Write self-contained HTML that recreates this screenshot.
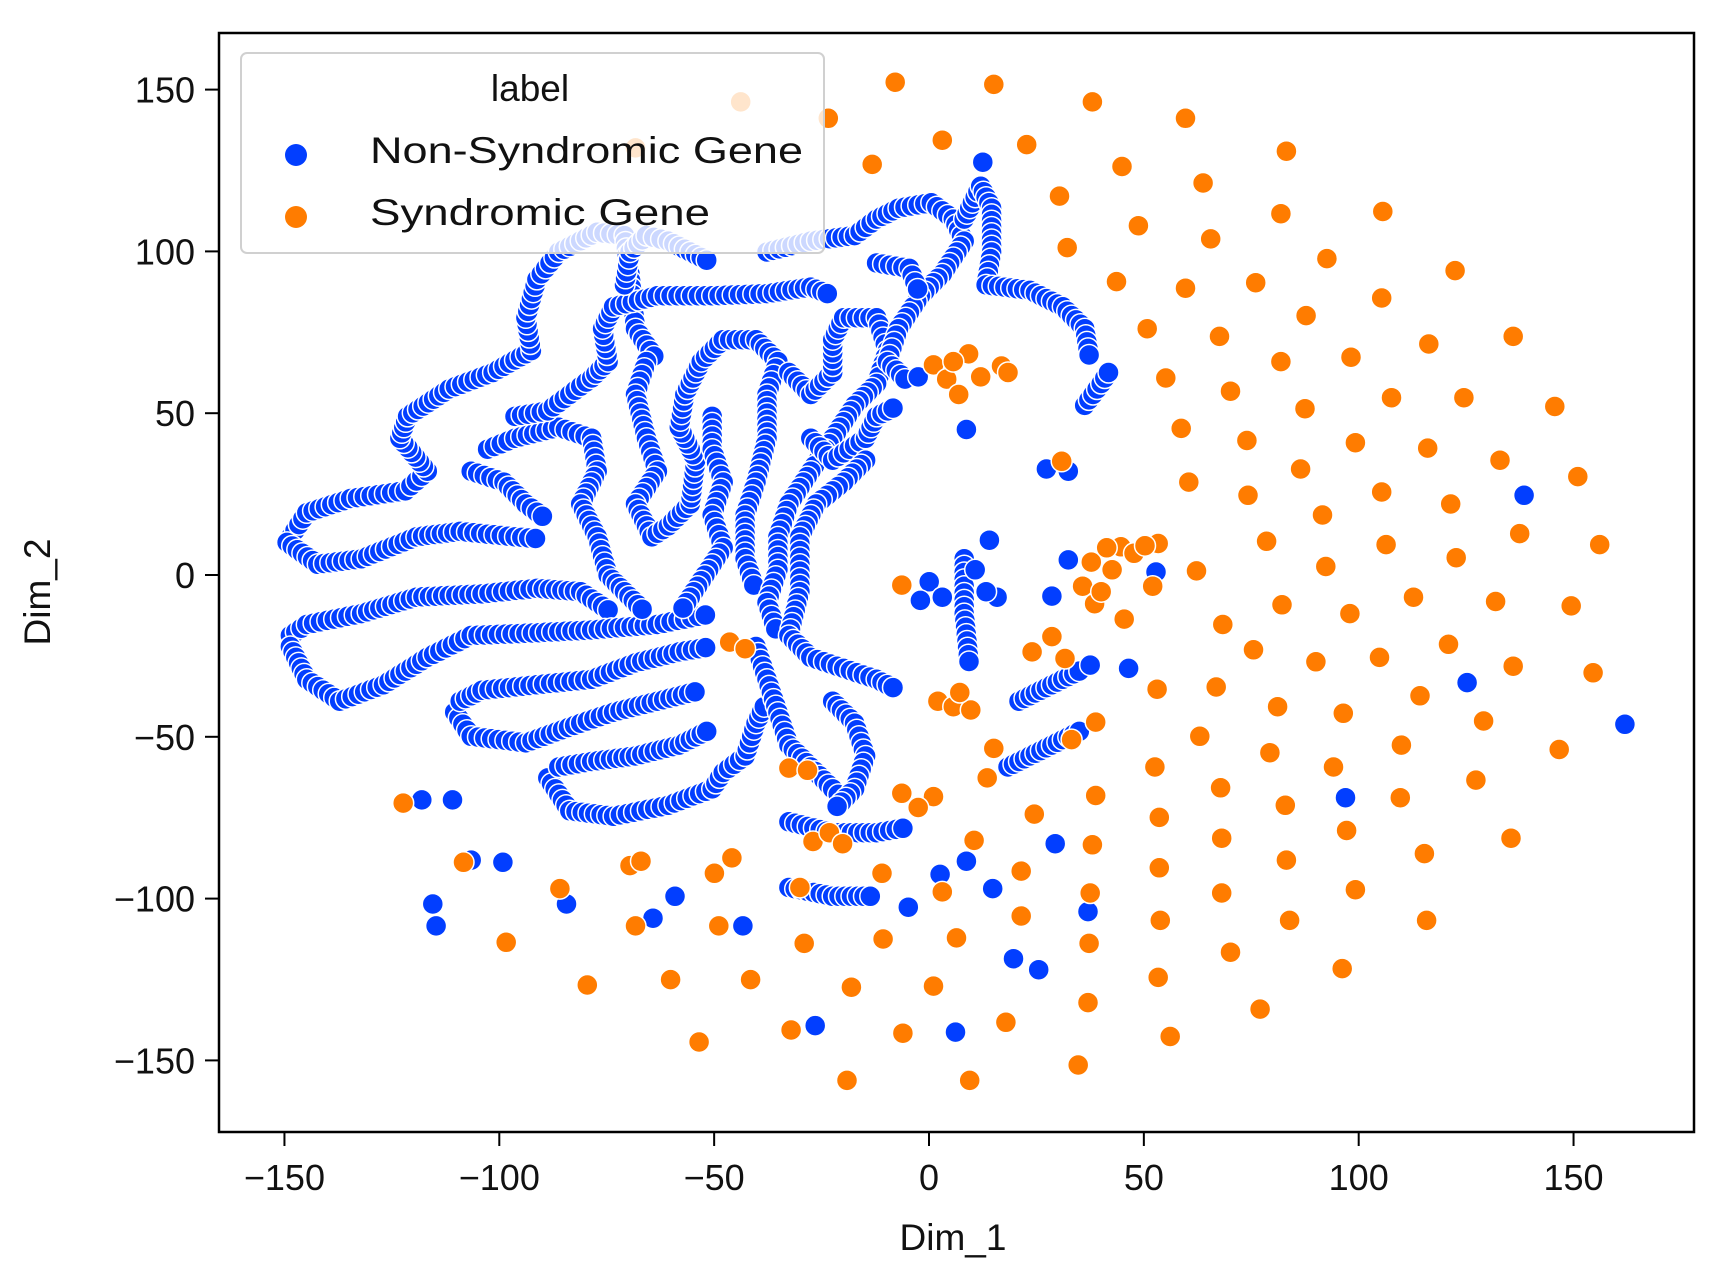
<!DOCTYPE html>
<html><head><meta charset="utf-8"><style>
html,body{margin:0;padding:0;background:#fff;}
svg{display:block;font-family:"Liberation Sans",sans-serif;}
</style></head><body>
<svg id="s" width="1715" height="1279" viewBox="0 0 1715 1279" xmlns="http://www.w3.org/2000/svg">
<rect width="1715" height="1279" fill="#fff"/>
<g id="pts"></g>
<g id="leg">
<rect x="241" y="53" width="583" height="200" rx="6" fill="rgba(255,255,255,0.8)" stroke="#d0d0d0" stroke-width="2"/>
<text x="530" y="101" font-size="37" text-anchor="middle" fill="#111">label</text>
<circle cx="296" cy="155" r="11" fill="#023eff"/>
<text x="370" y="163" font-size="37" fill="#111" textLength="433" lengthAdjust="spacingAndGlyphs">Non-Syndromic Gene</text>
<circle cx="296" cy="217" r="11" fill="#ff7c00"/>
<text x="370" y="225" font-size="37" fill="#111" textLength="340" lengthAdjust="spacingAndGlyphs">Syndromic Gene</text>
</g>
<rect x="219" y="33" width="1475" height="1099" fill="none" stroke="#000" stroke-width="2.5"/>
<g id="ax" font-size="36" fill="#111"></g>
<text x="953" y="1250" font-size="37" text-anchor="middle" fill="#111">Dim_1</text>
<text transform="translate(50,592) rotate(-90)" font-size="37" text-anchor="middle" fill="#111">Dim_2</text>
</svg>
<script>
var NS="http://www.w3.org/2000/svg",S=1.0957;
var g=document.getElementById('pts'),ax=document.getElementById('ax');
function c(x,y,col,r){var e=document.createElementNS(NS,'circle');e.setAttribute('cx',(x*S).toFixed(1));e.setAttribute('cy',(y*S).toFixed(1));e.setAttribute('r',r||10.5);e.setAttribute('fill',col);e.setAttribute('stroke','#fff');e.setAttribute('stroke-width','1.5');g.appendChild(e);}
var B='#023eff',O='#ff7c00';
var paths=[
[[262,495],[280,468],[320,455],[370,448],[390,430],[365,400],[372,380],[410,355],[450,340],[485,320],[480,290],[490,255],[510,230],[545,212],[570,215],[575,250],[580,300],[600,330]],
[[262,495],[290,515],[330,510],[380,490],[420,485],[470,490],[495,492]],
[[265,580],[280,570],[330,560],[380,545],[440,542],[490,537],[530,540],[560,560]],
[[265,590],[280,620],[310,640],[350,625],[390,600],[430,580],[480,578],[540,575],[600,570],[650,560]],
[[415,650],[430,672],[480,678],[530,660],[560,650],[600,640],[640,630]],
[[420,640],[440,630],[490,625],[540,620],[580,605],[620,595],[650,590]],
[[500,710],[520,740],[560,745],[610,735],[650,720],[660,705],[680,690],[690,660],[700,640]],
[[510,700],[540,695],[580,690],[620,680],[650,665]],
[[445,410],[470,400],[510,390],[540,400],[545,430],[530,460],[545,490],[555,525],[570,540],[590,560]],
[[430,430],[460,440],[480,460],[500,475]],
[[470,380],[500,375],[520,360],[540,345],[555,330],[550,300],[560,280],[600,270],[650,270],[700,268],[740,262],[760,270]],
[[570,260],[575,230],[590,215],[610,220],[630,230],[650,240]],
[[590,330],[580,360],[590,400],[600,430],[580,460],[595,490],[610,480],[630,460],[635,420],[620,390],[625,360],[640,330],[660,310],[690,310],[710,330],[700,360],[700,400],[690,440],[680,470],[680,510],[690,540]],
[[650,380],[650,410],[660,440],[650,470],[660,500],[640,530],[620,560]],
[[720,340],[740,360],[760,340],[760,310],[770,290],[800,290],[810,320],[800,350],[780,370],[760,400],[740,430],[720,460],[710,490],[710,520],[700,550],[710,580]],
[[740,400],[760,420],[790,400],[800,380],[820,370]],
[[790,420],[770,440],[745,460],[730,490],[730,540],[720,580],[740,600],[770,610],[800,620],[820,630]],
[[690,590],[700,620],[710,650],[720,680],[740,700],[760,720],[770,730]],
[[760,640],[780,660],[790,690],[780,720],[760,740]],
[[700,230],[740,220],[780,215],[800,200],[820,190],[850,185],[870,200],[880,220],[860,250],[840,270],[820,300],[810,330],[830,350]],
[[800,240],[830,245],[840,270]],
[[880,200],[895,170],[905,190],[905,230],[900,260],[940,265],[970,280],[990,300],[995,330]],
[[990,370],[1005,350],[1015,335]],
[[720,750],[760,760],[800,760],[830,755]],
[[720,810],[760,818],[800,818]],
[[930,640],[950,630],[970,620],[990,610]],[[920,700],[940,690],[960,680],[990,665]],
[[880,510],[880,560],[885,610]]
];
paths.forEach(function(p){for(var i=0;i<p.length-1;i++){var a=p[i],b=p[i+1],d=Math.hypot(b[0]-a[0],b[1]-a[1]),n=Math.max(1,Math.round(d/6));for(var k=0;k<n;k++){var t=k/n;c(a[0]+(b[0]-a[0])*t,a[1]+(b[1]-a[1])*t,B);}}});
[[897,148],[1391,452],[1339,623],[1483,661],[1228,728],[385,730],[413,730],[395,825],[398,845],[430,785],[459,787],[517,825],[596,838],[616,818],[678,845],[744,936],[872,942],[948,885],[925,875],[963,770],[1030,610],[995,607],[993,832],[829,828],[858,798],[882,786],[906,811],[960,544],[975,511],[1055,522],[838,344],[882,392],[955,428],[975,430],[848,531],[840,548],[903,493],[860,545],[910,545],[890,520],[900,540]].forEach(function(p){c(p[0],p[1],B);});
[[817,75],[907,77],[997,93],[1082,108],[756,108],[860,128],[937,132],[1174,138],[796,150],[1024,152],[1098,167],[967,179],[1169,195],[1262,193],[1039,206],[1105,218],[974,226],[1211,236],[1328,247],[1019,257],[1082,263],[1146,258],[1261,272],[1192,288],[1047,300],[1113,307],[1381,307],[1304,314],[1233,326],[1169,330],[1064,345],[1123,357],[1270,363],[1336,363],[1191,373],[1419,371],[1078,391],[1138,402],[1237,404],[1303,409],[1369,420],[1085,440],[1187,428],[1440,435],[1139,452],[1261,449],[1207,470],[1324,460],[1387,487],[1156,494],[1265,497],[1460,497],[1210,517],[1329,509],[1092,521],[1290,545],[1365,549],[1170,552],[1232,560],[1434,553],[1116,570],[1322,588],[1144,593],[1201,604],[1259,600],[1381,608],[1454,614],[1056,629],[1110,627],[1296,635],[1166,645],[1226,651],[1354,658],[1095,672],[1279,680],[1423,684],[1159,687],[1054,700],[1217,700],[1347,712],[1114,719],[1278,728],[1000,726],[1058,746],[1173,735],[1229,758],[1115,765],[997,771],[1300,779],[1379,765],[1174,785],[1058,792],[995,815],[1237,812],[1115,815],[1059,840],[1177,840],[1302,840],[1123,869],[994,861],[1225,884],[1057,892],[1150,921],[1068,946],[993,915],[984,972],[932,836],[918,933],[885,986],[873,856],[852,900],[824,943],[806,857],[777,901],[773,986],[734,861],[722,940],[685,894],[638,951],[612,894],[536,899],[462,860],[368,733],[423,787],[511,811],[580,845],[656,845],[823,534],[666,586],[680,592],[1026,565],[1052,535],[1057,496],[969,421],[1023,499],[996,513],[988,535],[999,551],[1000,659],[978,675],[942,595],[960,581],[972,601],[901,710],[907,683],[856,640],[870,645],[886,648],[876,632],[944,743],[889,767],[932,795],[860,814],[852,727],[823,724],[838,737],[805,797],[742,768],[757,760],[769,770],[730,810],[720,701],[737,703],[575,790],[585,786],[668,783],[652,797],[852,333],[864,346],[875,360],[884,323],[895,344],[914,334],[920,340],[870,330],[1010,500],[1035,505],[1045,498],[1005,540],[1015,520],[676,93],[580,135]].forEach(function(p){c(p[0],p[1],O);});
function ln(x1,y1,x2,y2){var e=document.createElementNS(NS,'line');e.setAttribute('x1',x1);e.setAttribute('y1',y1);e.setAttribute('x2',x2);e.setAttribute('y2',y2);e.setAttribute('stroke','#000');e.setAttribute('stroke-width','2');ax.appendChild(e);}
function tx(x,y,s,anc){var e=document.createElementNS(NS,'text');e.setAttribute('x',x);e.setAttribute('y',y);e.setAttribute('text-anchor',anc);e.textContent=s;ax.appendChild(e);}
[-150,-100,-50,0,50,100,150].forEach(function(v){var X=929+4.297*v;ln(X,1132,X,1146);tx(X,1190,v<0?'\u2212'+(-v):''+v,'middle');
var Y=575-3.236*v;ln(205,Y,219,Y);tx(195,Y+13,v<0?'\u2212'+(-v):''+v,'end');});
</script>
</body></html>
